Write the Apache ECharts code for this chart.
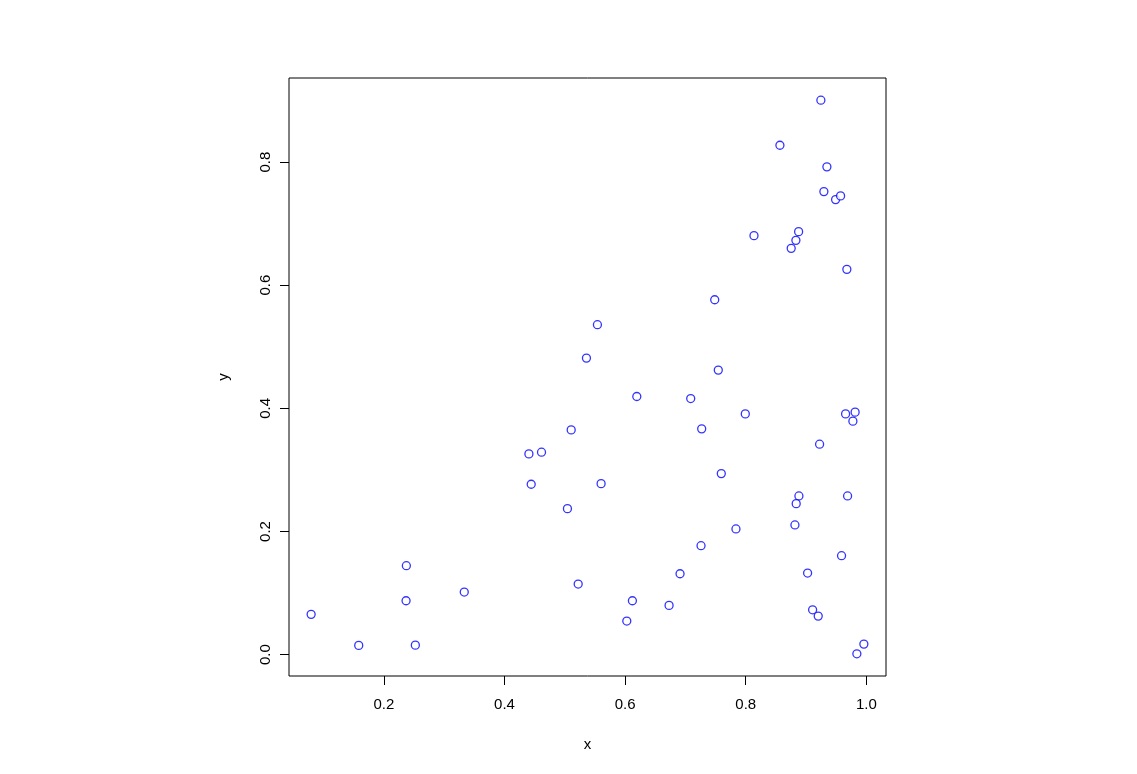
<!DOCTYPE html>
<html>
<head>
<meta charset="utf-8">
<script src="https://cdn.jsdelivr.net/npm/echarts@6/dist/echarts.min.js"></script>
<style>
  html, body { margin: 0; padding: 0; background: #fff; }
  #chart { width: 1137px; height: 774px; }
</style>
</head>
<body>
<div id="chart"></div>
<script>
// values
const xValues = [
  0.9246, 0.8567, 0.9346, 0.9296, 0.9490, 0.9573, 0.8877, 0.8832, 0.8754, 0.9677,
  0.9656, 0.9814, 0.9777, 0.9225, 0.8882, 0.8837, 0.9689, 0.8816, 0.9589, 0.9026,
  0.9109, 0.9202, 0.9959, 0.9843,
  0.7486, 0.5541, 0.5359, 0.7545, 0.6194, 0.7088, 0.7993, 0.5106, 0.7270, 0.4405,
  0.4614, 0.7595, 0.4443, 0.5602, 0.5044, 0.7838, 0.7259, 0.6911, 0.5222, 0.6121,
  0.6729, 0.6028,
  0.2373, 0.3333, 0.2368, 0.0794, 0.1583, 0.2522, 0.8137
];
const yValues = [
  0.9005, 0.8273, 0.7922, 0.7520, 0.7390, 0.7450, 0.6870, 0.6728, 0.6598, 0.6257,
  0.3910, 0.3938, 0.3792, 0.3418, 0.2577, 0.2452, 0.2577, 0.2106, 0.1607, 0.1325,
  0.0728, 0.0626, 0.0171, 0.0013,
  0.5764, 0.5358, 0.4816, 0.4621, 0.4192, 0.4159, 0.3910, 0.3650, 0.3667, 0.3260,
  0.3288, 0.2940, 0.2767, 0.2777, 0.2371, 0.2041, 0.1769, 0.1314, 0.1146, 0.0875,
  0.0800, 0.0545,
  0.1444, 0.1016, 0.0875, 0.0654, 0.0150, 0.0154, 0.6805
];
const xTicks = [0.2, 0.4, 0.6, 0.8, 1.0];
const yTicks = [0.0, 0.2, 0.4, 0.6, 0.8];

const points = xValues.map((x, i) => [x, yValues[i]]);

const font = 'Liberation Sans, Arial, sans-serif';
const chart = echarts.init(document.getElementById('chart'), null, { renderer: 'canvas' });

chart.setOption({
  animation: false,
  backgroundColor: '#ffffff',
  grid: {
    left: 289, right: 251, top: 78, bottom: 98,
    show: true, borderColor: '#000', borderWidth: 1, backgroundColor: 'transparent'
  },
  xAxis: {
    type: 'value',
    min: 0.0427, max: 1.0326,
    name: 'x', nameLocation: 'middle', nameGap: 61,
    nameTextStyle: { fontFamily: font, fontSize: 15, color: '#000' },
    axisLine: { show: false, onZero: false },
    splitLine: { show: false },
    axisTick: { show: true, inside: false, length: 9, customValues: xTicks,
      lineStyle: { color: '#000', width: 1 } },
    axisLabel: { customValues: xTicks, margin: 21, fontFamily: font, fontSize: 15, color: '#000',
      formatter: v => v.toFixed(1) }
  },
  yAxis: {
    type: 'value',
    min: -0.0347, max: 0.9365,
    name: 'y', nameLocation: 'middle', nameGap: 58, nameRotate: 90,
    nameTextStyle: { fontFamily: font, fontSize: 15, color: '#000' },
    axisLine: { show: false, onZero: false },
    splitLine: { show: false },
    axisTick: { show: true, inside: false, length: 9, customValues: yTicks,
      lineStyle: { color: '#000', width: 1 } },
    axisLabel: { customValues: yTicks, margin: 16, rotate: 90, fontFamily: font, fontSize: 15, color: '#000',
      formatter: v => v.toFixed(1) }
  },
  series: [{
    type: 'scatter',
    data: points,
    symbol: 'circle',
    symbolSize: 8,
    itemStyle: { color: '#ffffff', borderColor: '#0000ff', borderWidth: 1.3 }
  }]
});
</script>
</body>
</html>
